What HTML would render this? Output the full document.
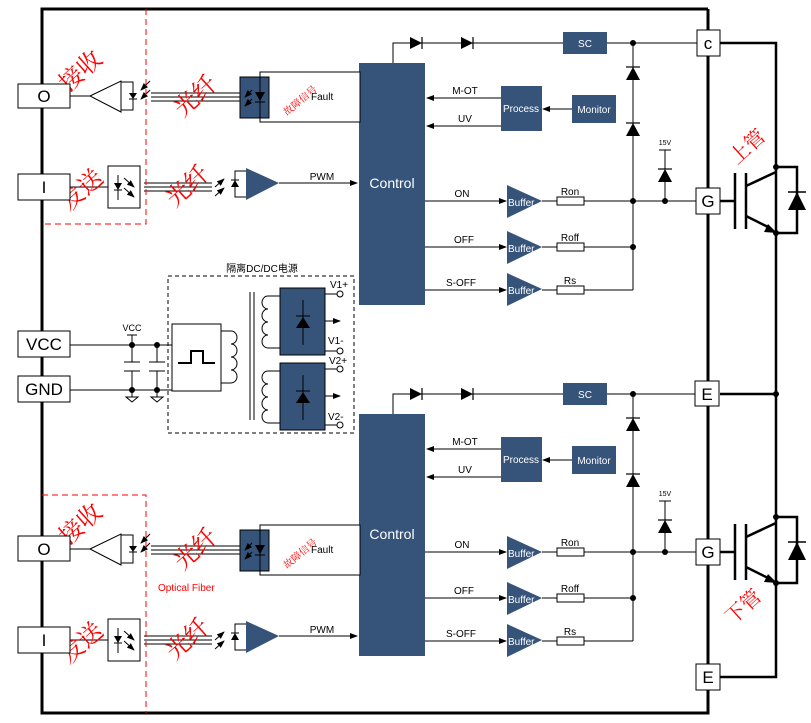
<!DOCTYPE html>
<html><head><meta charset="utf-8"><style>
body{margin:0;background:#fff}
svg{display:block}
text{font-family:"Liberation Sans","Noto Sans CJK SC",sans-serif}
.r{fill:#f00;font-family:"Liberation Serif","Noto Serif CJK SC",serif}
</style></head><body>
<svg width="811" height="723" viewBox="0 0 811 723" xmlns="http://www.w3.org/2000/svg">
<defs>
<marker id="ar" markerWidth="8" markerHeight="6" refX="7" refY="3" orient="auto" markerUnits="userSpaceOnUse"><path d="M0,0L8,3L0,6z" fill="#000"/></marker>
<g id="diodeUp"><line x1="-7" y1="0" x2="7" y2="0" stroke="#000" stroke-width="1.2"/><path d="M0,0L-7,13L7,13z" fill="#000"/></g>
<g id="diodeR"><path d="M0,-6L12,0L0,6z" fill="#000"/><line x1="12" y1="-6" x2="12" y2="6" stroke="#000" stroke-width="1.2"/></g>
<g id="buf"><path d="M0,0L35,16L0,33z" fill="#36537a"/><text x="1" y="21" font-size="10" fill="#fff">Buffer</text></g>
<g id="res"><rect x="0" y="-4" width="27" height="8" fill="#fff" stroke="#000"/></g>
<g id="dot"><circle r="3" fill="#000"/></g>
</defs>

<!-- driver block (top) -->
<g id="drv">
<rect x="359" y="63" width="66" height="242" fill="#36537a"/>
<text x="392" y="188" font-size="14" fill="#fff" text-anchor="middle">Control</text>
<polyline points="393,63 393,43 563,43" fill="none" stroke="#000"/>
<use href="#diodeR" x="410" y="43"/><use href="#diodeR" x="461" y="43"/>
<rect x="563" y="32" width="44" height="22" fill="#36537a"/>
<text x="585" y="47" font-size="10" fill="#fff" text-anchor="middle">SC</text>
<line x1="607" y1="43" x2="697" y2="43" stroke="#000"/>
<use href="#dot" x="633" y="43"/>
<line x1="633" y1="43" x2="633" y2="290" stroke="#000"/>
<use href="#diodeUp" x="633" y="67"/><use href="#diodeUp" x="633" y="123"/>
<rect x="501" y="86" width="41" height="45" fill="#36537a"/>
<text x="521" y="112" font-size="10" fill="#fff" text-anchor="middle">Process</text>
<rect x="572" y="95" width="44" height="28" fill="#36537a"/>
<text x="594" y="113" font-size="10" fill="#fff" text-anchor="middle">Monitor</text>
<line x1="572" y1="109" x2="543" y2="109" stroke="#000" marker-end="url(#ar)"/>
<line x1="501" y1="98" x2="427" y2="98" stroke="#000" marker-end="url(#ar)"/>
<line x1="501" y1="126" x2="427" y2="126" stroke="#000" marker-end="url(#ar)"/>
<text x="465" y="94" font-size="10" text-anchor="middle">M-OT</text>
<text x="465" y="122" font-size="10" text-anchor="middle">UV</text>
<text x="665" y="145" font-size="7" text-anchor="middle">15V</text>
<line x1="665" y1="150" x2="665" y2="201" stroke="#000"/>
<line x1="659" y1="150" x2="671" y2="150" stroke="#000"/>
<use href="#diodeUp" x="665" y="169"/>
<line x1="425" y1="201" x2="506" y2="201" stroke="#000" marker-end="url(#ar)"/>
<text x="462" y="197" font-size="10" text-anchor="middle">ON</text>
<use href="#buf" x="507" y="185"/>
<line x1="542" y1="201" x2="696" y2="201" stroke="#000"/>
<use href="#res" x="557" y="201"/>
<text x="570" y="195" font-size="10" text-anchor="middle">Ron</text>
<use href="#dot" x="633" y="201"/><use href="#dot" x="665" y="201"/>
<line x1="425" y1="247" x2="506" y2="247" stroke="#000" marker-end="url(#ar)"/>
<text x="464" y="243" font-size="10" text-anchor="middle">OFF</text>
<use href="#buf" x="507" y="231"/>
<line x1="542" y1="247" x2="633" y2="247" stroke="#000"/>
<use href="#res" x="557" y="247"/>
<text x="570" y="241" font-size="10" text-anchor="middle">Roff</text>
<use href="#dot" x="633" y="247"/>
<line x1="425" y1="290" x2="506" y2="290" stroke="#000" marker-end="url(#ar)"/>
<text x="461" y="286" font-size="10" text-anchor="middle">S-OFF</text>
<use href="#buf" x="507" y="273"/>
<line x1="542" y1="290" x2="633" y2="290" stroke="#000"/>
<use href="#res" x="557" y="290"/>
<text x="570" y="284" font-size="10" text-anchor="middle">Rs</text>
</g>
<use href="#drv" x="0" y="351"/>

<!-- fiber section top -->
<g id="fib">
<line x1="70" y1="96" x2="90" y2="96" stroke="#000"/>
<path d="M90,96L121,81L121,112z" fill="#fff" stroke="#000"/>
<polyline points="121,82 133,82 133,110 121,110" fill="none" stroke="#000"/>
<path d="M129,93L137,93L133,99z" fill="#000"/><line x1="129" y1="99" x2="137" y2="99" stroke="#000"/>
<line x1="150" y1="81" x2="141" y2="90" stroke="#000" marker-end="url(#ar)"/>
<line x1="150" y1="90" x2="141" y2="99" stroke="#000" marker-end="url(#ar)"/>
<line x1="151" y1="93" x2="241" y2="93" stroke="#000"/>
<line x1="151" y1="97" x2="241" y2="97" stroke="#000"/>
<line x1="151" y1="101" x2="241" y2="101" stroke="#000"/>
<rect x="260" y="72" width="100" height="50" fill="#fff" stroke="#000"/>
<rect x="240" y="77" width="29" height="41" fill="#36537a" stroke="#000"/>
<path d="M255,92L265,92L260,101z" fill="#000"/><line x1="255" y1="102" x2="265" y2="102" stroke="#000"/><line x1="260" y1="77" x2="260" y2="118" stroke="#000"/>
<line x1="252" y1="90" x2="245" y2="97" stroke="#000" marker-end="url(#ar)"/>
<line x1="252" y1="99" x2="245" y2="106" stroke="#000" marker-end="url(#ar)"/>
<text x="311" y="100" font-size="10">Fault</text>
<text class="r" x="0" y="0" font-size="10" transform="translate(287,116) rotate(-40)">故障信号</text>
<line x1="70" y1="187" x2="108" y2="187" stroke="#000"/>
<rect x="108" y="166" width="32" height="42" fill="#fff" stroke="#000"/>
<line x1="118" y1="175" x2="118" y2="200" stroke="#000"/>
<path d="M114,183L122,183L118,190z" fill="#000"/><line x1="114" y1="190" x2="122" y2="190" stroke="#000"/>
<line x1="124" y1="178" x2="134" y2="187" stroke="#000" marker-end="url(#ar)"/>
<line x1="124" y1="188" x2="134" y2="197" stroke="#000" marker-end="url(#ar)"/>
<line x1="144" y1="183" x2="212" y2="183" stroke="#000"/>
<line x1="144" y1="187" x2="212" y2="187" stroke="#000"/>
<line x1="144" y1="191" x2="212" y2="191" stroke="#000"/>
<line x1="215" y1="187" x2="224" y2="179" stroke="#000" marker-end="url(#ar)"/>
<line x1="215" y1="196" x2="224" y2="188" stroke="#000" marker-end="url(#ar)"/>
<polyline points="246,171 235,171 235,197 246,197" fill="none" stroke="#000"/>
<path d="M231,187L239,187L235,180z" fill="#000"/><line x1="231" y1="180" x2="239" y2="180" stroke="#000"/>
<path d="M246,168L279,183L246,200z" fill="#36537a"/>
<line x1="279" y1="183" x2="357" y2="183" stroke="#000" marker-end="url(#ar)"/>
<text x="322" y="180" font-size="10" text-anchor="middle">PWM</text>
<text class="r" font-size="24" transform="translate(68,93) rotate(-42)">接收</text>
<text class="r" font-size="24" transform="translate(183,118) rotate(-42)">光纤</text>
<text class="r" font-size="24" transform="translate(69,212) rotate(-42)">发送</text>
<text class="r" font-size="24" transform="translate(175,208) rotate(-42)">光纤</text>
</g>
<use href="#fib" x="0" y="453"/>
<text x="158" y="591" font-size="10" fill="#f00">Optical Fiber</text>

<polyline points="708,9 42,9 42,713 708,713 708,9" fill="none" stroke="#000" stroke-width="3"/>
<polyline points="146,9 146,224 42,224" fill="none" stroke="#f00" stroke-dasharray="6,4"/>
<polyline points="42,495 146,495 146,713" fill="none" stroke="#f00" stroke-dasharray="6,4"/>

<g font-size="17" text-anchor="middle">
<rect x="18" y="84" width="52" height="24" fill="#fff" stroke="#000"/><text x="44" y="102">O</text>
<rect x="18" y="174" width="52" height="26" fill="#fff" stroke="#000"/><text x="44" y="193">I</text>
<rect x="18" y="331" width="52" height="26" fill="#fff" stroke="#000"/><text x="44" y="350">VCC</text>
<rect x="18" y="376" width="52" height="26" fill="#fff" stroke="#000"/><text x="44" y="395">GND</text>
<rect x="18" y="536" width="52" height="25" fill="#fff" stroke="#000"/><text x="44" y="555">O</text>
<rect x="18" y="627" width="52" height="26" fill="#fff" stroke="#000"/><text x="44" y="646">I</text>
</g>

<text x="262" y="272" font-size="10" text-anchor="middle">隔离DC/DC电源</text>
<rect x="168" y="276" width="186" height="157" fill="none" stroke="#000" stroke-dasharray="4,3"/>
<line x1="70" y1="345" x2="172" y2="345" stroke="#000"/>
<line x1="70" y1="390" x2="172" y2="390" stroke="#000"/>
<text x="132" y="331" font-size="9" text-anchor="middle">VCC</text>
<line x1="132" y1="335" x2="132" y2="362" stroke="#000"/><line x1="127" y1="335" x2="137" y2="335" stroke="#000"/>
<line x1="157" y1="345" x2="157" y2="362" stroke="#000"/>
<line x1="124" y1="362" x2="140" y2="362" stroke="#000"/><line x1="124" y1="371" x2="140" y2="371" stroke="#000"/>
<line x1="149" y1="362" x2="165" y2="362" stroke="#000"/><line x1="149" y1="371" x2="165" y2="371" stroke="#000"/>
<line x1="132" y1="371" x2="132" y2="397" stroke="#000"/><line x1="157" y1="371" x2="157" y2="397" stroke="#000"/>
<path d="M126,397L138,397L132,402z" fill="none" stroke="#000"/><path d="M151,397L163,397L157,402z" fill="none" stroke="#000"/>
<use href="#dot" x="132" y="345"/><use href="#dot" x="157" y="345"/><use href="#dot" x="132" y="390"/><use href="#dot" x="157" y="390"/>
<rect x="172" y="324" width="49" height="67" fill="#fff" stroke="#000"/>
<polyline points="178,363 191,363 191,351 203,351 203,363 215,363" fill="none" stroke="#000" stroke-width="2"/>
<path d="M221,331L231,331 A6,6.5 0 0 1 231,344 A6,6.5 0 0 1 231,357 A6,6.5 0 0 1 231,370 A6,6.5 0 0 1 231,383 L221,383" fill="none" stroke="#000"/>
<line x1="250" y1="292" x2="250" y2="420" stroke="#000"/><line x1="254" y1="292" x2="254" y2="420" stroke="#000"/>
<path d="M280,296L268,296 A6,6.5 0 0 0 268,309 A6,6.5 0 0 0 268,322 A6,6.5 0 0 0 268,335 A6,6.5 0 0 0 268,348 L280,348" fill="none" stroke="#000"/>
<path d="M280,371L268,371 A6,6.5 0 0 0 268,384 A6,6.5 0 0 0 268,397 A6,6.5 0 0 0 268,410 A6,6.5 0 0 0 268,423 L280,423" fill="none" stroke="#000"/>
<rect x="280" y="288" width="45" height="67" fill="#36537a" stroke="#000"/>
<rect x="280" y="363" width="45" height="67" fill="#36537a" stroke="#000"/>
<line x1="303" y1="300" x2="303" y2="345" stroke="#000"/><path d="M296,328L310,328L303,317z" fill="#000"/><line x1="296" y1="316" x2="310" y2="316" stroke="#000"/>
<line x1="303" y1="375" x2="303" y2="420" stroke="#000"/><path d="M296,403L310,403L303,392z" fill="#000"/><line x1="296" y1="391" x2="310" y2="391" stroke="#000"/>
<g stroke="#000" fill="#fff">
<line x1="325" y1="294" x2="337" y2="294"/><circle cx="340" cy="294" r="3"/>
<line x1="325" y1="351" x2="337" y2="351"/><circle cx="340" cy="351" r="3"/>
<line x1="325" y1="369" x2="337" y2="369"/><circle cx="340" cy="369" r="3"/>
<line x1="325" y1="425" x2="337" y2="425"/><circle cx="340" cy="425" r="3"/>
<line x1="325" y1="321" x2="340" y2="321" marker-end="url(#ar)"/>
<line x1="325" y1="396" x2="340" y2="396" marker-end="url(#ar)"/>
</g>
<g font-size="10"><text x="330" y="288">V1+</text><text x="328" y="344">V1-</text><text x="329" y="364">V2+</text><text x="328" y="420">V2-</text></g>

<g stroke="#000" stroke-width="2.5" fill="none">
<polyline points="720,43 776,43 776,677 720,677"/>
<line x1="720" y1="394" x2="776" y2="394"/>
<polyline points="776,167 797,167 797,233 776,233"/>
<polyline points="776,517 797,517 797,583 776,583"/>
<line x1="720" y1="201" x2="735" y2="201"/><line x1="735" y1="173" x2="735" y2="229"/><line x1="746" y1="173" x2="746" y2="229"/>
<line x1="746" y1="186" x2="776" y2="172"/><line x1="746" y1="216" x2="770" y2="228"/>
<line x1="720" y1="552" x2="735" y2="552"/><line x1="735" y1="524" x2="735" y2="580"/><line x1="746" y1="524" x2="746" y2="580"/>
<line x1="746" y1="537" x2="776" y2="523"/><line x1="746" y1="567" x2="770" y2="579"/>
</g>
<path d="M777,233L764,232L768,224z" fill="#000"/><path d="M777,583L764,582L768,574z" fill="#000"/>
<use href="#dot" x="776" y="167"/><use href="#dot" x="776" y="233"/><use href="#dot" x="776" y="394"/><use href="#dot" x="776" y="517"/><use href="#dot" x="776" y="583"/>
<line x1="788" y1="192" x2="806" y2="192" stroke="#000" stroke-width="1.5"/><path d="M797,192L788,210L806,210z" fill="#000"/>
<line x1="788" y1="542" x2="806" y2="542" stroke="#000" stroke-width="1.5"/><path d="M797,542L788,560L806,560z" fill="#000"/>
<text class="r" font-size="20" transform="translate(737,165) rotate(-42)">上管</text>
<text class="r" font-size="20" transform="translate(733,625) rotate(-42)">下管</text>

<g font-size="17" text-anchor="middle">
<rect x="697" y="30" width="23" height="26" fill="#fff" stroke="#000"/><text x="708" y="49">c</text>
<rect x="696" y="188" width="24" height="26" fill="#fff" stroke="#000"/><text x="708" y="207">G</text>
<rect x="695" y="381" width="24" height="25" fill="#fff" stroke="#000"/><text x="707" y="400">E</text>
<rect x="696" y="539" width="24" height="26" fill="#fff" stroke="#000"/><text x="708" y="558">G</text>
<rect x="696" y="664" width="24" height="26" fill="#fff" stroke="#000"/><text x="708" y="683">E</text>
</g>
</svg>
</body></html>
